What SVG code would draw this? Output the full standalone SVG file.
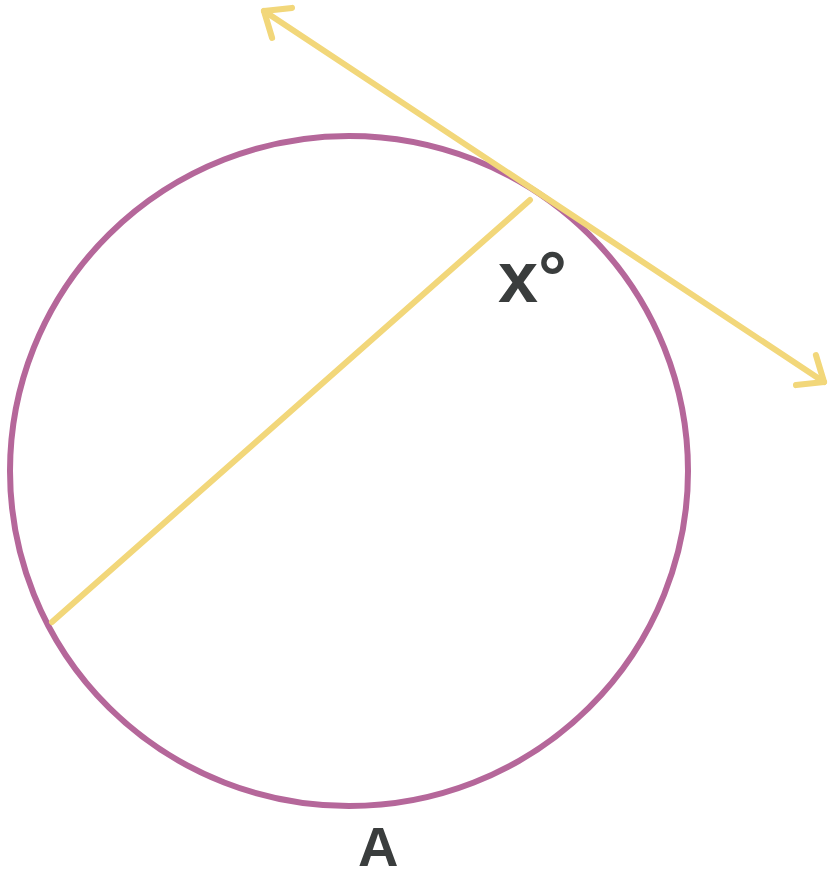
<svg xmlns="http://www.w3.org/2000/svg" width="834" height="880" viewBox="0 0 834 880">
<style>
.y{stroke:#F2D77A;stroke-width:6;fill:none;stroke-linecap:round;stroke-linejoin:round}
.lbl{font-family:"Liberation Sans",sans-serif;fill:#3a3d3d;font-weight:bold}
</style>
<defs>
<marker id="ah" viewBox="-10 -10 20 20" markerWidth="12" markerHeight="12" refX="0" refY="0" orient="auto-start-reverse" markerUnits="strokeWidth">
<path d="M-6,-5 L0,0 L-6,5" stroke="#F2D77A" stroke-width="1.7" fill="none" stroke-linecap="round" stroke-linejoin="round"/>
</marker>
</defs>
<rect width="834" height="880" fill="#fff"/>
<g id="circle">
<ellipse cx="349" cy="471" rx="339" ry="335" fill="none" stroke="#B5679A" stroke-width="6"/>
</g>
<g id="connectors">
<line class="y" x1="264" y1="11" x2="824" y2="382" marker-start="url(#ah)" marker-end="url(#ah)"/>
<line class="y" x1="530" y1="200" x2="52" y2="622"/>
</g>
<g id="label-x"><text class="lbl" x="498" y="302" font-size="72">x°</text></g>
<g id="label-a"><text class="lbl" x="358" y="866" font-size="56">A</text></g>
</svg>
